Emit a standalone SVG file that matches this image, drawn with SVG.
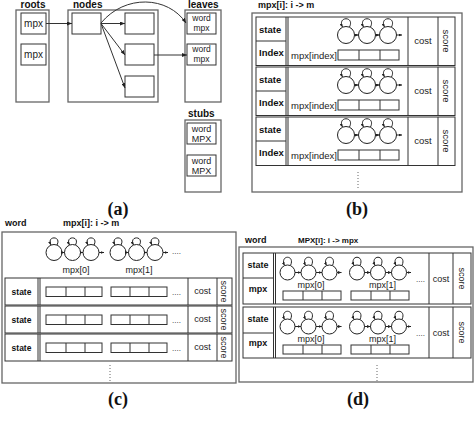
<svg xmlns="http://www.w3.org/2000/svg" width="474" height="434" viewBox="0 0 474 434">
<style>
.frame{fill:none;stroke:#666;stroke-width:1.3}
.box{fill:none;stroke:#333;stroke-width:1}
.ln{stroke:#333;stroke-width:1;fill:none}
.st{fill:#fff;stroke:#222;stroke-width:1}
.lp{fill:none;stroke:#222;stroke-width:1}
.dot{stroke:#666;stroke-width:1;stroke-dasharray:1 2}
.b{font-family:"Liberation Sans",Arial,sans-serif;font-weight:bold;fill:#111}
.t{font-family:"Liberation Sans",Arial,sans-serif;fill:#222}
.m{text-anchor:middle}
.cap{font-family:"Liberation Serif","Times New Roman",serif;font-weight:bold;font-size:18px;fill:#111;text-anchor:middle}
</style>
<defs>
<marker id="ah" markerUnits="userSpaceOnUse" markerWidth="5" markerHeight="4" refX="5" refY="2" orient="auto"><path d="M0,0 L5,2 L0,4 z" fill="#222"/></marker>
<marker id="sm" markerUnits="userSpaceOnUse" markerWidth="3.5" markerHeight="3" refX="3.5" refY="1.5" orient="auto"><path d="M0,0 L3.5,1.5 L0,3 z" fill="#222"/></marker>
<g id="chainB">
<path class="lp" d="M3.5,-8 C9,-19 -9,-19 -3.5,-8" marker-end="url(#sm)"/>
<path class="lp" d="M24.5,-8 C30,-19 12,-19 17.5,-8" marker-end="url(#sm)"/>
<path class="lp" d="M45.5,-8 C51,-19 33,-19 38.5,-8" marker-end="url(#sm)"/>
<circle class="st" cx="0" cy="0" r="8.5"/><circle class="st" cx="21" cy="0" r="8.5"/><circle class="st" cx="42" cy="0" r="8.5"/>
<path class="lp" d="M8.5,0 L12.5,0" marker-end="url(#sm)"/><path class="lp" d="M29.5,0 L33.5,0" marker-end="url(#sm)"/><path class="lp" d="M50.5,0 L56,0" marker-end="url(#sm)"/>
</g>
<g id="chainC">
<path class="lp" d="M3,-7.5 C8,-17 -8,-17 -3,-7.5" marker-end="url(#sm)"/>
<path class="lp" d="M21.5,-7.5 C26.5,-17 10.5,-17 15.5,-7.5" marker-end="url(#sm)"/>
<path class="lp" d="M40,-7.5 C45,-17 29,-17 34,-7.5" marker-end="url(#sm)"/>
<circle class="st" cx="0" cy="0" r="8"/><circle class="st" cx="18.5" cy="0" r="8"/><circle class="st" cx="37" cy="0" r="8"/>
<path class="lp" d="M8,0 L10.5,0" marker-end="url(#sm)"/><path class="lp" d="M26.5,0 L29,0" marker-end="url(#sm)"/><path class="lp" d="M45,0 L50,0" marker-end="url(#sm)"/>
</g>
<g id="chainD">
<path class="lp" d="M3,-7 C8,-18 -8,-18 -3,-7" marker-end="url(#sm)"/>
<path class="lp" d="M24,-7 C29,-18 13,-18 18,-7" marker-end="url(#sm)"/>
<path class="lp" d="M45,-7 C50,-18 34,-18 39,-7" marker-end="url(#sm)"/>
<circle class="st" cx="0" cy="0" r="7.5"/><circle class="st" cx="21" cy="0" r="7.5"/><circle class="st" cx="42" cy="0" r="7.5"/>
<path class="lp" d="M7.5,0 L13.5,0" marker-end="url(#sm)"/><path class="lp" d="M28.5,0 L34.5,0" marker-end="url(#sm)"/><path class="lp" d="M49.5,0 L54,0" marker-end="url(#sm)"/>
</g>
</defs>
<rect width="474" height="434" fill="#fff"/>

<!-- Panel (a) -->
<g id="roots">
<text class="b" x="20.5" y="7.5" font-size="10">roots</text>
<rect class="frame" x="16" y="10" width="33" height="92"/>
<rect class="box" x="21" y="13" width="25" height="21"/>
<text class="t m" x="33.5" y="26.5" font-size="10">mpx</text>
<rect class="box" x="21" y="44" width="25" height="21"/>
<text class="t m" x="33.5" y="57.5" font-size="10">mpx</text>
</g>
<g id="nodes">
<text class="b" x="73" y="7.5" font-size="10">nodes</text>
<rect class="frame" x="68" y="10" width="90" height="92"/>
<rect class="box" x="72" y="13" width="29" height="21"/>
<rect class="box" x="125" y="13" width="29" height="21"/>
<rect class="box" x="125" y="44" width="29" height="21"/>
<rect class="box" x="125" y="76" width="29" height="21"/>
</g>
<g id="leaves">
<text class="b" x="188" y="7.5" font-size="10">leaves</text>
<rect class="frame" x="185" y="10" width="36" height="92"/>
<rect class="box" x="187" y="13" width="29" height="21"/>
<text class="t m" x="201.5" y="21.3" font-size="8.5">word</text>
<text class="t m" x="201.5" y="31" font-size="8.5">mpx</text>
<rect class="box" x="187" y="44" width="29" height="21"/>
<text class="t m" x="201.5" y="52.3" font-size="8.5">word</text>
<text class="t m" x="201.5" y="62" font-size="8.5">mpx</text>
</g>
<g id="stubs">
<text class="b" x="188" y="117" font-size="10">stubs</text>
<rect class="frame" x="185" y="120" width="36" height="72"/>
<rect class="box" x="187" y="123" width="29" height="21"/>
<text class="t m" x="201.5" y="131.5" font-size="9">word</text>
<text class="t m" x="201.5" y="141.5" font-size="9">MPX</text>
<rect class="box" x="187" y="155" width="29" height="21"/>
<text class="t m" x="201.5" y="163.5" font-size="9">word</text>
<text class="t m" x="201.5" y="173.5" font-size="9">MPX</text>
</g>
<g id="connectors">
<path class="ln" d="M46,23.5 L72,23.5" marker-end="url(#ah)"/>
<path class="ln" d="M101,23.5 L125,23.5" marker-end="url(#ah)"/>
<path class="ln" d="M101,23.5 L125,55" marker-end="url(#ah)"/>
<path class="ln" d="M101,23.5 L125,88" marker-end="url(#ah)"/>
<path class="ln" d="M101,23 C125,-6 168,-4 186,23" marker-end="url(#ah)"/>
<path class="ln" d="M154,55 L187,55" marker-end="url(#ah)"/>
</g>
<text class="cap" x="118" y="215">(a)</text>

<!-- Panel (b) -->
<g id="panel-b">
<text class="b" x="258" y="8" font-size="9">mpx[i]: i -&gt; m</text>
<rect class="frame" x="252" y="13" width="210" height="179"/>
<g id="b-row1">
<rect class="box" x="256" y="17" width="199" height="48.5"/>
<path class="ln" d="M286,17 V65.5 M288,17 V65.5 M256,41 H286 M408,17 V65.5 M438,17 V65.5"/>
<text class="b" x="259" y="33" font-size="9.5">state</text>
<text class="b" x="259" y="56" font-size="9.5">Index</text>
<use href="#chainB" transform="translate(346,35)"/>
<text class="t" x="337" y="58.5" font-size="9.5" text-anchor="end">mpx[index]</text>
<rect class="box" x="338" y="50" width="61" height="10"/>
<path class="ln" d="M359,50 V60 M380,50 V60"/>
<text class="t m" x="423" y="44" font-size="9.5">cost</text>
<text class="t m" font-size="9.5" transform="translate(446.5,41) rotate(90)" y="3.3">score</text>
</g>
<g id="b-row2">
<rect class="box" x="256" y="67" width="199" height="48.5"/>
<path class="ln" d="M286,67 V115.5 M288,67 V115.5 M256,91 H286 M408,67 V115.5 M438,67 V115.5"/>
<text class="b" x="259" y="83" font-size="9.5">state</text>
<text class="b" x="259" y="106" font-size="9.5">Index</text>
<use href="#chainB" transform="translate(346,85)"/>
<text class="t" x="337" y="108.5" font-size="9.5" text-anchor="end">mpx[index]</text>
<rect class="box" x="338" y="100" width="61" height="10"/>
<path class="ln" d="M359,100 V110 M380,100 V110"/>
<text class="t m" x="423" y="94" font-size="9.5">cost</text>
<text class="t m" font-size="9.5" transform="translate(446.5,91) rotate(90)" y="3.3">score</text>
</g>
<g id="b-row3">
<rect class="box" x="256" y="117" width="199" height="48.5"/>
<path class="ln" d="M286,117 V165.5 M288,117 V165.5 M256,141 H286 M408,117 V165.5 M438,117 V165.5"/>
<text class="b" x="259" y="133" font-size="9.5">state</text>
<text class="b" x="259" y="156" font-size="9.5">Index</text>
<use href="#chainB" transform="translate(346,135)"/>
<text class="t" x="337" y="158.5" font-size="9.5" text-anchor="end">mpx[index]</text>
<rect class="box" x="338" y="150" width="61" height="10"/>
<path class="ln" d="M359,150 V160 M380,150 V160"/>
<text class="t m" x="423" y="144" font-size="9.5">cost</text>
<text class="t m" font-size="9.5" transform="translate(446.5,141) rotate(90)" y="3.3">score</text>
</g>
<path class="dot" d="M358,172 V188"/>
</g>
<text class="cap" x="357" y="215">(b)</text>

<!-- Panel (c) -->
<g id="panel-c">
<text class="b" x="5" y="226" font-size="9">word</text>
<text class="b" x="63" y="226" font-size="9">mpx[i]: i -&gt; m</text>
<rect class="frame" x="2" y="232" width="234" height="151"/>
<use href="#chainC" transform="translate(54,252.5)"/>
<use href="#chainC" transform="translate(118,252.5)"/>
<text class="t" x="172" y="254" font-size="8" fill="#666">....</text>
<text class="t m" x="76" y="273" font-size="9">mpx[0]</text>
<text class="t m" x="139" y="273" font-size="9">mpx[1]</text>
<g id="c-row1">
<rect class="box" x="5" y="278" width="227" height="27"/>
<path class="ln" d="M38,278 V305 M40,278 V305 M188,278 V305 M217,278 V305"/>
<text class="b m" x="21.5" y="295" font-size="8.5">state</text>
<rect class="box" x="46" y="287" width="56" height="9.5"/><path class="ln" d="M66,287 V296.5 M85,287 V296.5"/>
<rect class="box" x="111" y="287" width="56" height="9.5"/><path class="ln" d="M130,287 V296.5 M149,287 V296.5"/>
<text class="t" x="172" y="295" font-size="8" fill="#666">....</text>
<text class="t m" x="202.5" y="293.5" font-size="9">cost</text>
<text class="t m" font-size="9" transform="translate(224.5,291.5) rotate(90)" y="3.2">score</text>
</g>
<g id="c-row2">
<rect class="box" x="5" y="306" width="227" height="27"/>
<path class="ln" d="M38,306 V333 M40,306 V333 M188,306 V333 M217,306 V333"/>
<text class="b m" x="21.5" y="323" font-size="8.5">state</text>
<rect class="box" x="46" y="315" width="56" height="9.5"/><path class="ln" d="M66,315 V324.5 M85,315 V324.5"/>
<rect class="box" x="111" y="315" width="56" height="9.5"/><path class="ln" d="M130,315 V324.5 M149,315 V324.5"/>
<text class="t" x="172" y="323" font-size="8" fill="#666">....</text>
<text class="t m" x="202.5" y="321.5" font-size="9">cost</text>
<text class="t m" font-size="9" transform="translate(224.5,319.5) rotate(90)" y="3.2">score</text>
</g>
<g id="c-row3">
<rect class="box" x="5" y="334" width="227" height="27"/>
<path class="ln" d="M38,334 V361 M40,334 V361 M188,334 V361 M217,334 V361"/>
<text class="b m" x="21.5" y="351" font-size="8.5">state</text>
<rect class="box" x="46" y="343" width="56" height="9.5"/><path class="ln" d="M66,343 V352.5 M85,343 V352.5"/>
<rect class="box" x="111" y="343" width="56" height="9.5"/><path class="ln" d="M130,343 V352.5 M149,343 V352.5"/>
<text class="t" x="172" y="351" font-size="8" fill="#666">....</text>
<text class="t m" x="202.5" y="349.5" font-size="9">cost</text>
<text class="t m" font-size="9" transform="translate(224.5,347.5) rotate(90)" y="3.2">score</text>
</g>
<path class="dot" d="M110,365 V382"/>
</g>
<text class="cap" x="118" y="405">(c)</text>

<!-- Panel (d) -->
<g id="panel-d">
<text class="b" x="245" y="243" font-size="9">word</text>
<text class="b" x="298" y="243" font-size="8">MPX[i]: i -&gt; mpx</text>
<rect class="frame" x="239" y="247" width="234" height="135"/>
<g id="d-row1">
<rect class="box" x="243" y="253" width="228" height="51"/>
<path class="ln" d="M273.5,253 V304 M275.5,253 V304 M243,278 H273.5 M429,253 V304 M453,253 V304"/>
<text class="b m" x="258" y="268" font-size="9">state</text>
<text class="b m" x="258" y="292" font-size="9">mpx</text>
<use href="#chainD" transform="translate(287.5,272.5)"/>
<use href="#chainD" transform="translate(357,272.5)"/>
<text class="t m" x="311" y="288" font-size="9">mpx[0]</text>
<text class="t m" x="382.5" y="288" font-size="9">mpx[1]</text>
<rect class="box" x="283" y="291" width="58" height="9"/><path class="ln" d="M303,291 V300 M322,291 V300"/>
<rect class="box" x="351" y="291" width="58" height="9"/><path class="ln" d="M371,291 V300 M390,291 V300"/>
<text class="t" x="416" y="282" font-size="8" fill="#666">....</text>
<text class="t m" x="441" y="282" font-size="9">cost</text>
<text class="t m" font-size="9" transform="translate(462,278.5) rotate(90)" y="3.2">score</text>
</g>
<g id="d-row2">
<rect class="box" x="243" y="307" width="228" height="51"/>
<path class="ln" d="M273.5,307 V358 M275.5,307 V358 M243,333 H273.5 M429,307 V358 M453,307 V358"/>
<text class="b m" x="258" y="322" font-size="9">state</text>
<text class="b m" x="258" y="346" font-size="9">mpx</text>
<use href="#chainD" transform="translate(287.5,326.5)"/>
<use href="#chainD" transform="translate(357,326.5)"/>
<text class="t m" x="311" y="342" font-size="9">mpx[0]</text>
<text class="t m" x="382.5" y="342" font-size="9">mpx[1]</text>
<rect class="box" x="283" y="345" width="58" height="9"/><path class="ln" d="M303,345 V354 M322,345 V354"/>
<rect class="box" x="351" y="345" width="58" height="9"/><path class="ln" d="M371,345 V354 M390,345 V354"/>
<text class="t" x="416" y="336" font-size="8" fill="#666">....</text>
<text class="t m" x="441" y="336" font-size="9">cost</text>
<text class="t m" font-size="9" transform="translate(462,332.5) rotate(90)" y="3.2">score</text>
</g>
<path class="dot" d="M377,365 V381"/>
</g>
<text class="cap" x="358" y="405">(d)</text>
</svg>
